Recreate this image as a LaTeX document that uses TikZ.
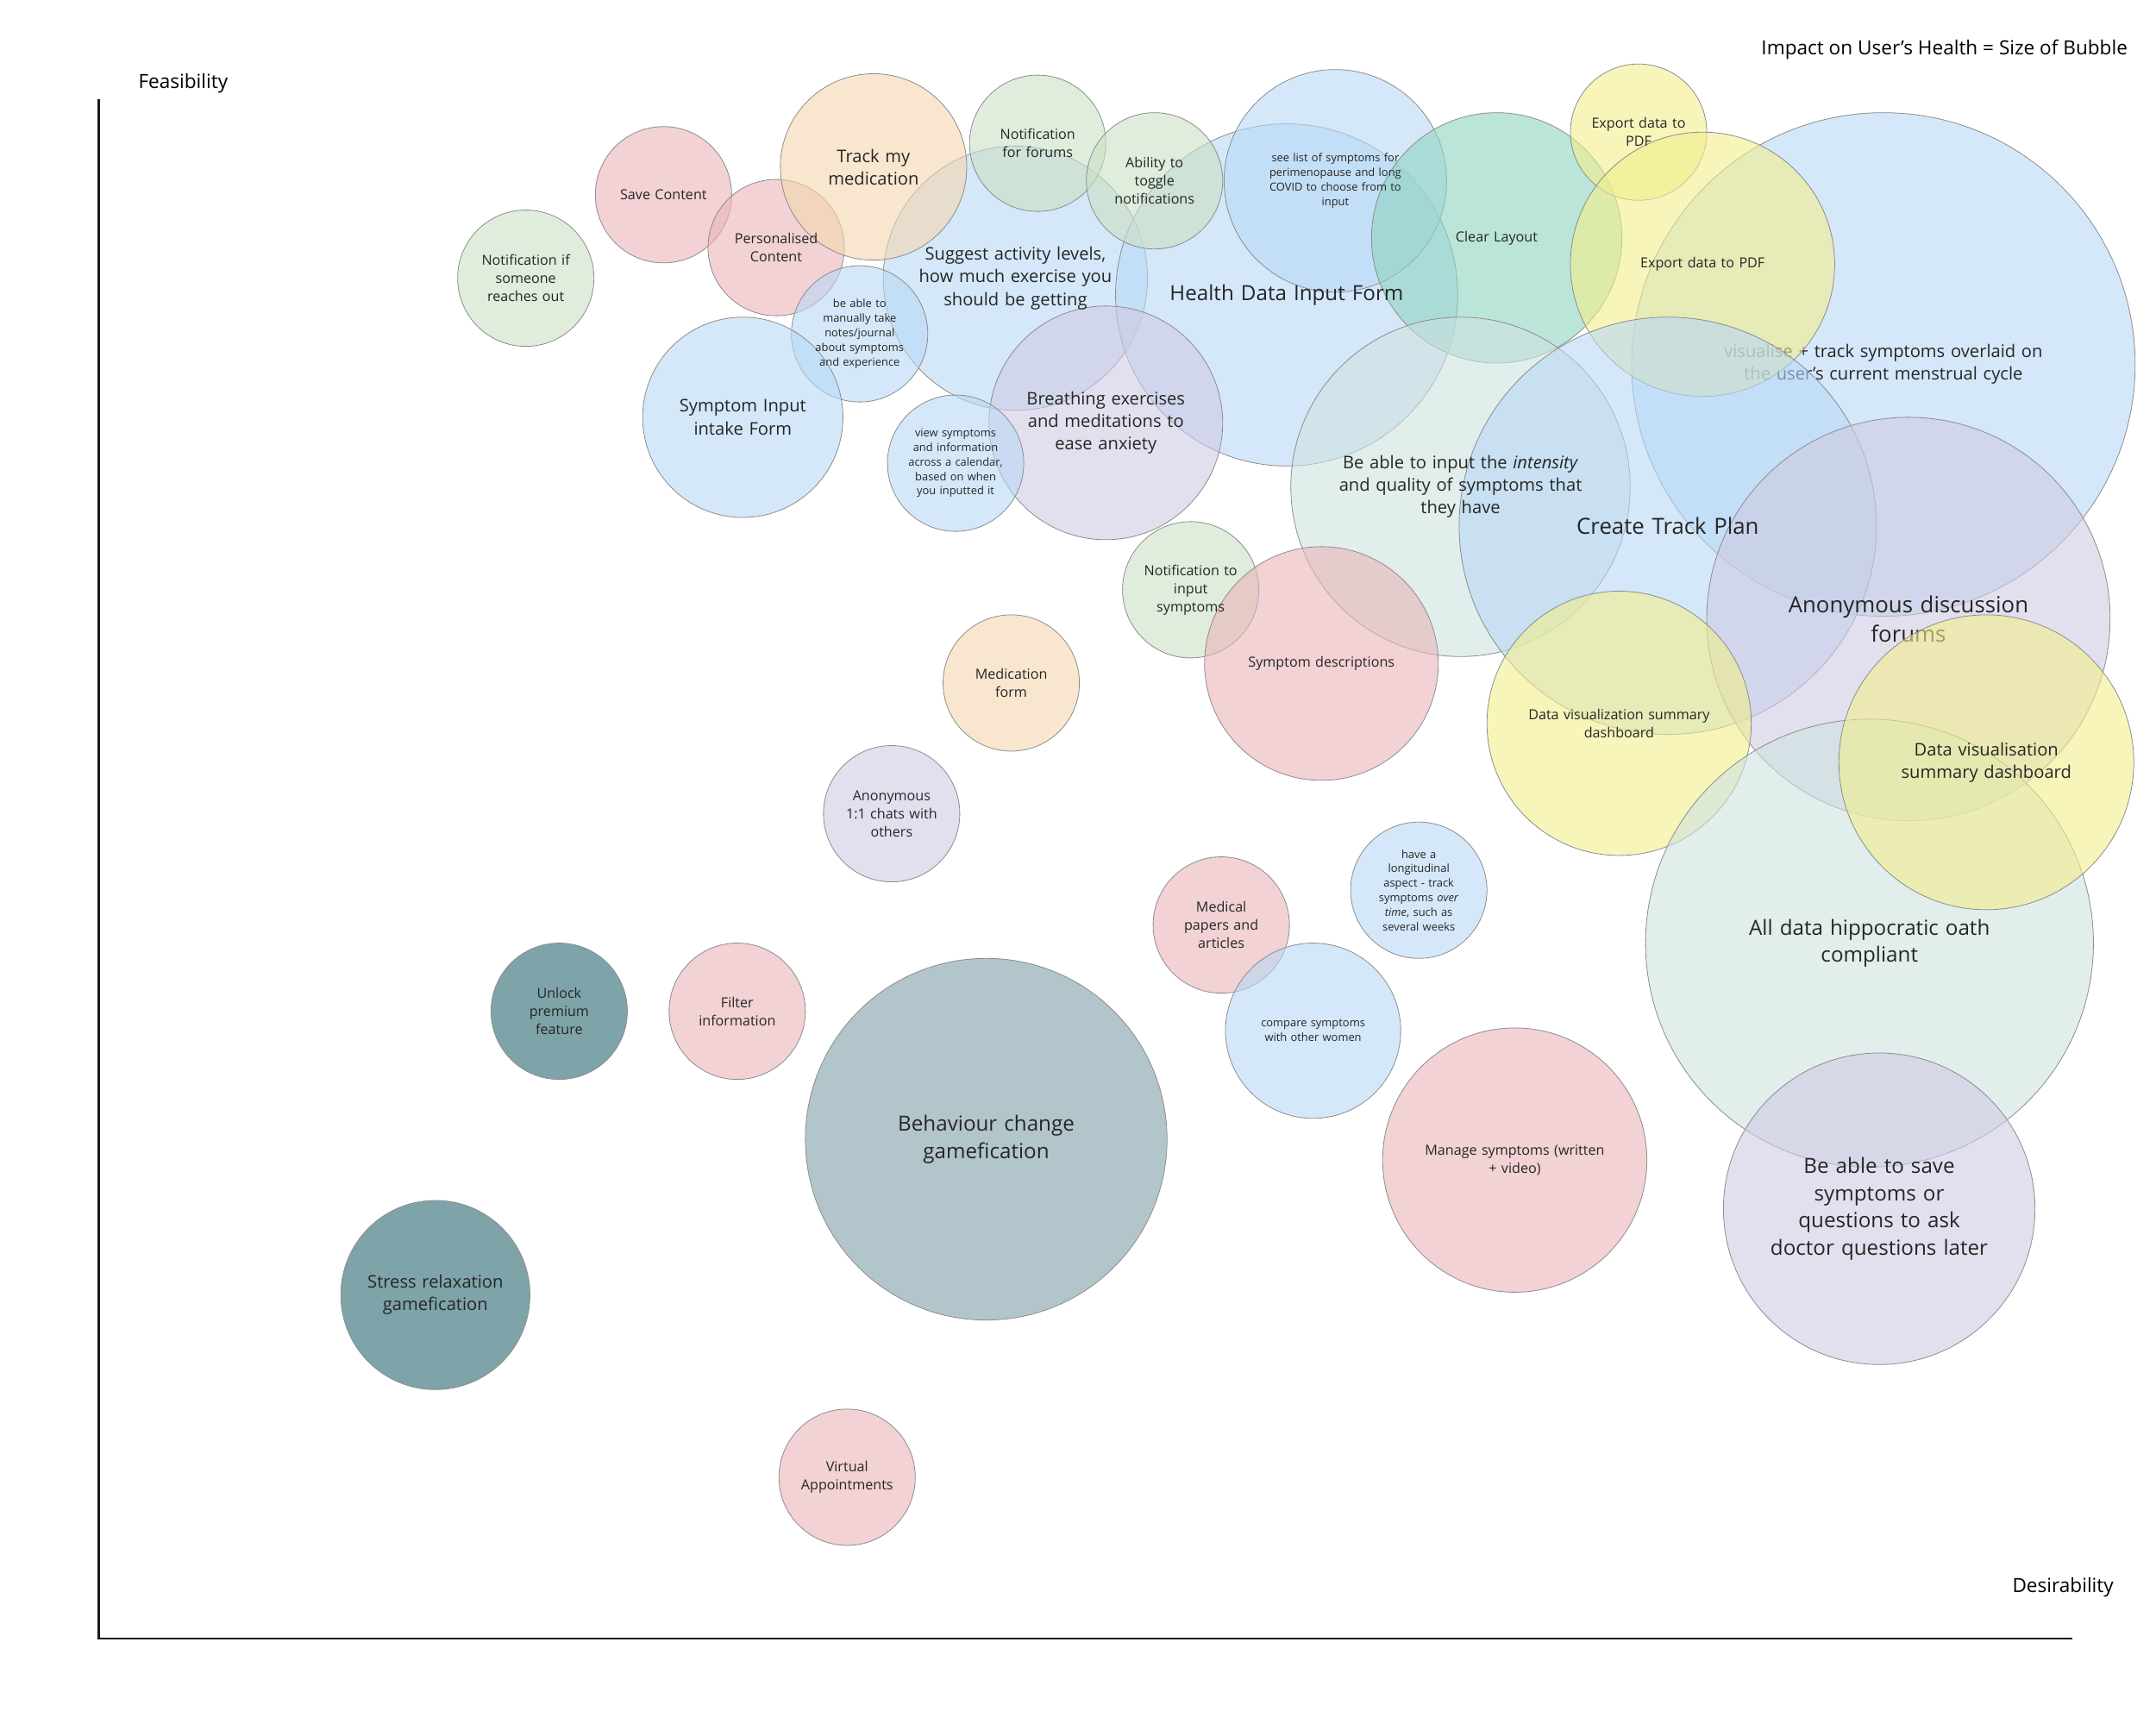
\documentclass[tikz,border=0pt]{standalone}
\usepackage{fontspec}
\setmainfont{Open Sans}
\definecolor{cb}{HTML}{B8D8F5}
\definecolor{cp}{HTML}{E9B4B7}
\definecolor{cg}{HTML}{CBE0C4}
\definecolor{co}{HTML}{F3D7AE}
\definecolor{cl}{HTML}{CFCBE3}
\definecolor{cd}{HTML}{5E8C93}
\definecolor{cs}{HTML}{7E9FA6}
\definecolor{cy}{HTML}{F2EE8C}
\definecolor{cm}{HTML}{8FD3BF}
\definecolor{ct}{HTML}{CDE2E0}
\tikzset{bub/.style={circle,draw=black!45,line width=0.5pt,fill opacity=0.6,inner sep=0,outer sep=0},
 dk/.style={fill opacity=0.8},
 lab/.style={align=center,text=black!85,inner sep=0}}
\newcommand\bub[5][]{\node[bub,fill=#5,minimum size=#4*2pt,#1] (n#2) at (#3) {};}
\newcommand\lbl[4]{\node[lab,font=\fontsize{#2pt}{\the\dimexpr#2pt*13/10\relax}\selectfont,text width=#3pt] (t#1) at (n#1) {#4};}
\begin{document}
\begin{tikzpicture}[x=1pt,y=-1pt]
\useasboundingbox (0,0) rectangle (1550,1229.6);
\coordinate (o) at (71,1178);
\coordinate (ytop) at (71,71);
\coordinate (xend) at (1490,1178);
\draw[line width=1.6pt,black!90] (ytop) -- (o) -- (xend);
\node[anchor=west,font=\fontsize{14}{17}\selectfont] (fe) at (96,60) {Feasibility};
\node[anchor=east,font=\fontsize{14}{17}\selectfont] (de) at (1523,1141) {Desirability};
\node[anchor=east,font=\fontsize{14}{17}\selectfont] (im) at (1533,36) {Impact on User's Health = Size of Bubble};
\bub{a}{477,140}{49}{cp}
\bub{b}{558,178}{49}{cp}
\bub{f}{730,200}{95}{cb}
\bub{c}{628,120}{67}{co}
\bub{d}{746,103}{49}{cg}
\bub{g}{378,200}{49}{cg}
\bub{h}{618,240}{49}{cb}
\bub{i}{534,300}{72}{cb}
\bub{l}{925,212}{123}{cb}
\bub{k}{795,304}{84}{cl}
\bub{j}{687,333}{49}{cb}
\bub{e}{830,130}{49}{cg}
\bub{m}{960,130}{80}{cb}
\bub{n}{1076,171}{90}{cm}
\bub{o}{1178,95}{49}{cy}
\bub{q}{1354,262}{181}{cb}
\lbl{q}{12.5}{260}{visualise + track symptoms overlaid on\\the user's current menstrual cycle}
\bub{p}{1224,190}{95}{cy}
\bub{r}{1050,350}{122}{ct}
\bub{s}{1199,378}{150}{cb}
\bub{u}{1372,445}{145}{cl}
\lbl{u}{16}{230}{Anonymous discussion\\forums}
\bub{v}{856,424}{49}{cg}
\bub{w}{950,477}{84}{cp}
\bub{x}{727,491}{49}{co}
\bub{y}{1164,520}{95}{cy}
\bub{ab}{641,585}{49}{cl}
\bub{ac}{1020,640}{49}{cb}
\bub{ad}{878,665}{49}{cp}
\bub{ae}{1344,678}{161}{ct}
\bub{z}{1428,548}{106}{cy}
\bub[dk]{af}{402,727}{49}{cd}
\bub{ag}{530,727}{49}{cp}
\bub{ah}{944,741}{63}{cb}
\bub{ai}{709,819}{130}{cs}
\bub{aj}{1089,834}{95}{cp}
\bub{ak}{1351,869}{112}{cl}
\bub[dk]{al}{313,931}{68}{cd}
\bub{am}{609,1062}{49}{cp}
\lbl{a}{10}{90}{Save Content}
\lbl{b}{10}{80}{Personalised\\Content}
\lbl{f}{12.5}{150}{Suggest activity levels,\\how much exercise you\\should be getting}
\lbl{c}{12.5}{110}{Track my\\medication}
\lbl{d}{10}{80}{Notification\\for forums}
\lbl{g}{10}{80}{Notification if\\someone\\reaches out}
\lbl{h}{8}{80}{be able to\\manually take\\notes/journal\\about symptoms\\and experience}
\lbl{i}{12.5}{120}{Symptom Input\\intake Form}
\lbl{l}{15}{200}{Health Data Input Form}
\lbl{k}{12.5}{140}{Breathing exercises\\and meditations to\\ease anxiety}
\lbl{j}{8}{85}{view symptoms\\and information\\across a calendar,\\based on when\\you inputted it}
\lbl{e}{10}{80}{Ability to\\toggle\\notifications}
\lbl{m}{8}{110}{see list of symptoms for\\perimenopause and long\\COVID to choose from to\\input}
\lbl{n}{10}{120}{Clear Layout}
\lbl{o}{10}{85}{Export data to\\PDF}
\lbl{p}{10}{150}{Export data to PDF}
\lbl{r}{12.5}{190}{Be able to input the \emph{intensity}\\and quality of symptoms that\\they have}
\lbl{s}{16}{240}{Create Track Plan}
\lbl{v}{10}{80}{Notification to\\input\\symptoms}
\lbl{w}{10}{140}{Symptom descriptions}
\lbl{x}{10}{80}{Medication\\form}
\lbl{y}{10}{150}{Data visualization summary\\dashboard}
\lbl{ab}{10}{80}{Anonymous\\1:1 chats with\\others}
\lbl{ac}{8}{80}{have a\\longitudinal\\aspect - track\\symptoms \emph{over}\\\emph{time}, such as\\several weeks}
\lbl{ad}{10}{80}{Medical\\papers and\\articles}
\lbl{ae}{15}{240}{All data hippocratic oath\\compliant}
\lbl{z}{12.5}{170}{Data visualisation\\summary dashboard}
\lbl{af}{10}{80}{Unlock\\premium\\feature}
\lbl{ag}{10}{80}{Filter\\information}
\lbl{ah}{8}{100}{compare symptoms\\with other women}
\lbl{ai}{15}{200}{Behaviour change\\gamefication}
\lbl{aj}{10}{150}{Manage symptoms (written\\+ video)}
\lbl{ak}{15}{180}{Be able to save\\symptoms or\\questions to ask\\doctor questions later}
\lbl{al}{12.5}{120}{Stress relaxation\\gamefication}
\lbl{am}{10}{80}{Virtual\\Appointments}
\end{tikzpicture}
\end{document}
